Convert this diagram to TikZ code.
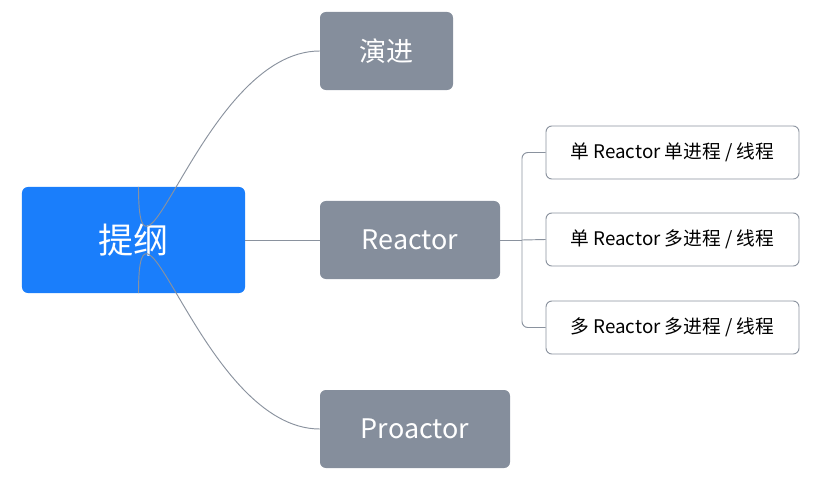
\documentclass[tikz,border=0pt]{standalone}
\usepackage{fontspec}
\setmainfont{Noto Sans CJK SC}
\usetikzlibrary{positioning}
\definecolor{rootblue}{HTML}{1A7EFB}
\definecolor{topicgray}{HTML}{858E9C}
\definecolor{linegray}{HTML}{8A929E}
\begin{document}
\begin{tikzpicture}[
    x=0.03cm, y=-0.03cm,
    root/.style={
        rectangle,
        fill=rootblue,
        text=white,
        rounded corners=5pt,
        minimum width=6.69cm,
        minimum height=3.18cm,
        font=\fontsize{30}{34}\selectfont
    },
    topic/.style={
        rectangle,
        fill=topicgray,
        text=white,
        rounded corners=5pt,
        minimum height=2.34cm,
        font=\fontsize{23}{27}\selectfont
    },
    leaf/.style={
        rectangle,
        draw=linegray,
        fill=white,
        thick,
        rounded corners=5pt,
        minimum width=7.59cm,
        minimum height=1.59cm,
        font=\fontsize{16}{19}\selectfont
    },
    line/.style={
        draw=linegray,
        thick
    }
]
\useasboundingbox (0,0) rectangle (821,481);

% Nodes
\node [root] (outline) at (133.5,240) {提纲};
\node [topic, minimum width=3.99cm] (evol) at (386.5,51) {演进};
\node [topic, minimum width=5.4cm] (reactor) at (410,240) {Reactor};
\node [topic, minimum width=5.7cm] (proactor) at (415,429) {Proactor};
\node [leaf] (single) at (672.5,152.5) {单 Reactor 单进程 / 线程};
\node [leaf] (multi) at (672.5,239.5) {单 Reactor 多进程 / 线程};
\node [leaf] (many) at (672.5,327.5) {多 Reactor 多进程 / 线程};
\coordinate (fork) at (522,240);

% Edges
\path [line] ([xshift=0.15cm]outline.north) .. controls ++(0,-4.2cm) and ++(-3.5cm,0) .. (evol.west);
\path [line] ([xshift=0.15cm]outline.south) .. controls ++(0,4.2cm) and ++(-3.5cm,0) .. (proactor.west);
\path [line] (outline) -- (reactor);
\path [line] (reactor) -- (fork);
\path [line, rounded corners=5pt] (single.west) -| (fork) |- (many.west);
\path [line] (fork) -- (multi.west);

\end{tikzpicture}
\end{document}
